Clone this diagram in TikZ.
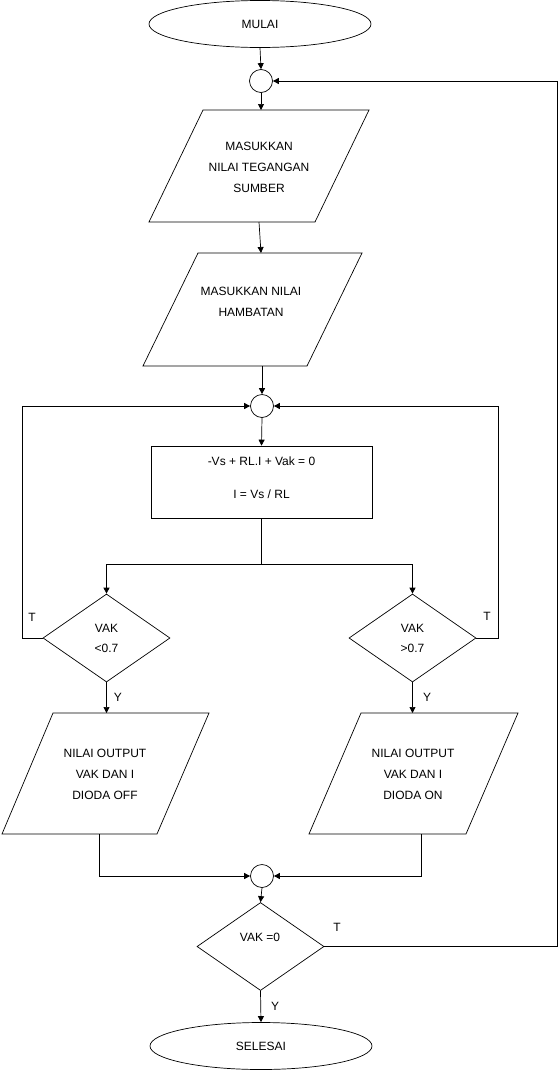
\documentclass[tikz,border=0pt]{standalone}
\usepackage{fontspec}
\setmainfont{Liberation Sans}
\usetikzlibrary{shapes.geometric,arrows.meta,calc}
\begin{document}
\begin{tikzpicture}[x=1pt,y=-1pt,
  line width=0.7pt,
  every node/.style={font=\fontsize{12}{21}\selectfont, align=center, inner sep=0pt},
  term/.style={draw, ellipse, minimum width=222pt, minimum height=47pt},
  junc/.style={draw, circle, minimum size=23pt},
  dec/.style={draw, diamond, minimum width=127pt, minimum height=88pt},
  proc/.style={draw, rectangle, minimum width=221pt, minimum height=72pt},
  arr/.style={-{Triangle[length=6pt,width=6pt]}},
  io/.style={draw, line join=miter}
]
\useasboundingbox (0,0) rectangle (559,1071);

% terminals
\node[term] (start) at (260,24) {MULAI};
\node[term] (stop) at (261,1046) {SELESAI};

% junctions
\node[junc] (c1) at (261,81) {};
\node[junc] (c2) at (262,406) {};
\node[junc] (c3) at (262,876) {};

% input parallelogram 1
\draw[io] (203,110) -- (369,110) -- (315,222) -- (149,222) -- cycle;
\coordinate (p1t) at (261,110);
\coordinate (p1b) at (259,222);
\node (p1) at (259,167.5) {MASUKKAN\\NILAI TEGANGAN\\SUMBER};

% input parallelogram 2
\draw[io] (198,253) -- (362,253) -- (307,366) -- (143,366) -- cycle;
\coordinate (p2t) at (261,253);
\coordinate (p2b) at (262,366);
\node (p2) at (251,302) {MASUKKAN NILAI\\HAMBATAN};

% process
\node[proc] (r) at (261.5,482) {};
\node (rt) at (261.5,477.5) {-Vs + RL.I + Vak = 0\\[12pt]I = Vs / RL};

% decisions
\node[dec] (d1) at (106.5,638) {VAK\\[-1pt]<0.7};
\node[dec] (d2) at (412.5,638) {VAK\\[-1pt]>0.7};
\node[dec] (d3) at (260.5,946.5) {};
\node (d3t) at (260,937) {VAK =0};

% output parallelograms
\draw[io] (53,713) -- (209,713) -- (157,834) -- (2,834) -- cycle;
\coordinate (p3t) at (106.5,713);
\coordinate (p3b) at (99,834);
\node (p3) at (105,774) {NILAI OUTPUT\\VAK DAN I\\DIODA OFF};

\draw[io] (361,713) -- (518,713) -- (466,834) -- (309,834) -- cycle;
\coordinate (p4t) at (412.5,713);
\coordinate (p4b) at (421,834);
\node (p4) at (413,774) {NILAI OUTPUT\\VAK DAN I\\DIODA ON};

% helper coordinates
\coordinate (split) at (261.5,564);
\coordinate (lft) at (22,638);
\coordinate (rgt) at (498,638);
\coordinate (far) at (557,946.5);

% connectors
\draw[arr] (start.south) -- (c1.north);
\draw[arr] (c1.south) -- (p1t);
\draw[arr] (p1b) -- (p2t);
\draw[arr] (p2b) -- (c2.north);
\draw[arr] (c2.south) -- (r.north);
\draw (r.south) -- (split);
\draw[arr] (split) -| (d1.north);
\draw[arr] (split) -| (d2.north);
\draw[arr] (d1.west) -- (lft) |- (c2.west);
\draw[arr] (d2.east) -- (rgt) |- (c2.east);
\draw[arr] (d1.south) -- (p3t);
\draw[arr] (d2.south) -- (p4t);
\draw[arr] (p3b) |- (c3.west);
\draw[arr] (p4b) |- (c3.east);
\draw[arr] (c3.south) -- (d3.north);
\draw[arr] (d3.east) -- (far) |- (c1.east);
\draw[arr] (d3.south) -- (stop.north);

% labels
\node (t1) at (32,617) {T};
\node (t2) at (487,616) {T};
\node (y1) at (118,697) {Y};
\node (y2) at (427,697) {Y};
\node (t3) at (337,927) {T};
\node (y3) at (275,1006) {Y};
\end{tikzpicture}
\end{document}
